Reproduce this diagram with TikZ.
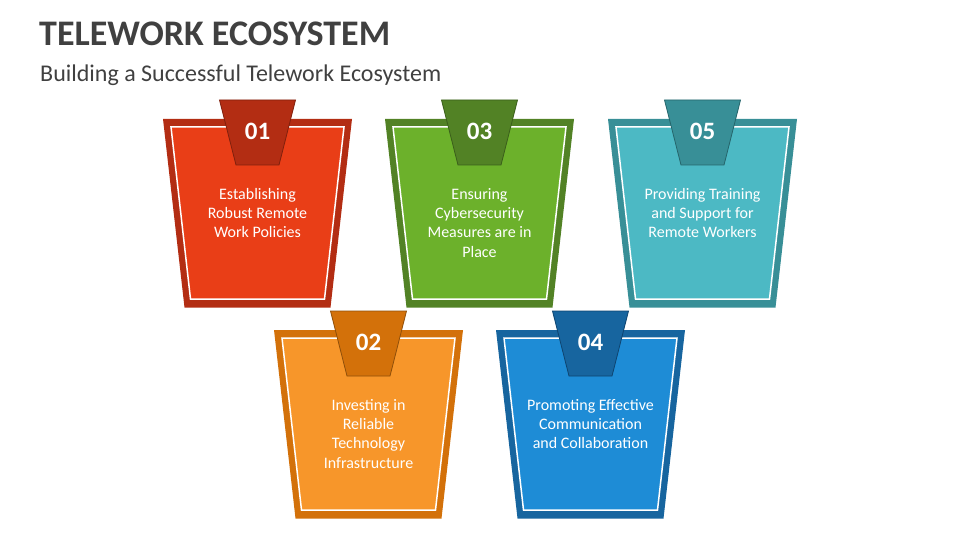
\documentclass[tikz,border=0pt]{standalone}
\usepackage{fontspec}
\setmainfont{Carlito}
\definecolor{redLight}{HTML}{E93E17}
\definecolor{redDark}{HTML}{B32D13}
\definecolor{redLine}{HTML}{80200D}
\definecolor{orangeLight}{HTML}{F7962A}
\definecolor{orangeDark}{HTML}{D3710A}
\definecolor{orangeLine}{HTML}{8F4F0A}
\definecolor{greenLight}{HTML}{6CB12B}
\definecolor{greenDark}{HTML}{528225}
\definecolor{greenLine}{HTML}{3B5F1B}
\definecolor{blueLight}{HTML}{1E8CD6}
\definecolor{blueDark}{HTML}{17659F}
\definecolor{blueLine}{HTML}{0E4470}
\definecolor{tealLight}{HTML}{4CB9C4}
\definecolor{tealDark}{HTML}{388F97}
\definecolor{tealLine}{HTML}{25656B}
\definecolor{titleGray}{HTML}{404040}
% card: x, y, colour, number, name, text
\newcommand{\card}[6]{%
  \begin{scope}[shift={(#1,#2)}]
    \fill[#3Dark] (-94.5,0) -- (94.5,0) -- (73,188.5) -- (-73,188.5) -- cycle;
    \draw[white, fill=#3Light, line width=1.5pt] (-86.5,8) -- (86.5,8) -- (67,180) -- (-67,180) -- cycle;
    \draw[#3Line, fill=#3Dark, line width=0.8pt] (-38,-19) -- (38,-19) -- (21.5,46) -- (-21.5,46) -- cycle;
    \node[numtext] (n#5) at (0,12) {#4};
    \node[cardtext] (t#5) at (0,69) {#6};
  \end{scope}}
\begin{document}
\begin{tikzpicture}[x=1pt, y=-1pt,
    numtext/.style={text=white, font=\fontsize{25}{28}\selectfont\bfseries, inner sep=0pt},
    cardtext/.style={anchor=north, text=white, align=center, inner sep=0pt, font=\fontsize{16}{19.3}\selectfont}]
  \useasboundingbox (0,0) rectangle (960,540);
  \node[anchor=base west, inner sep=0pt, text=titleGray, font=\fontsize{36}{40}\selectfont\bfseries] (title) at (39,46) {TELEWORK ECOSYSTEM};
  \node[anchor=base west, inner sep=0pt, text=titleGray, font=\fontsize{24}{28}\selectfont] (subtitle) at (40,82) {Building a Successful Telework Ecosystem};

  \card{257.5}{119}{red}{01}{1}{Establishing\\Robust Remote\\Work Policies}
  \card{479.5}{119}{green}{03}{3}{Ensuring\\Cybersecurity\\Measures are in\\Place}
  \card{702.5}{119}{teal}{05}{5}{Providing Training\\and Support for\\Remote Workers}
  \card{368.5}{330}{orange}{02}{2}{Investing in\\Reliable\\Technology\\Infrastructure}
  \card{590.5}{330}{blue}{04}{4}{Promoting Effective\\Communication\\and Collaboration}
\end{tikzpicture}
\end{document}
